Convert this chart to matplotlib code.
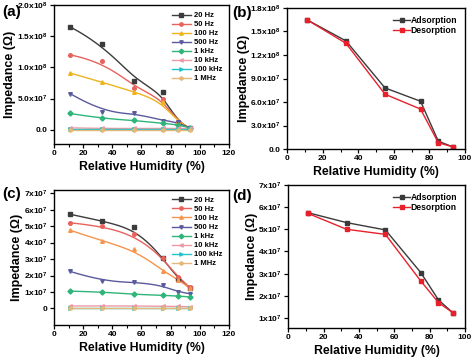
import matplotlib
matplotlib.use("Agg")
import matplotlib.pyplot as plt
import numpy as np

# ---------------------------------------------------------------------------
# Data
# ---------------------------------------------------------------------------
rh = [11, 33, 55, 75, 85, 93]
freqs = ["20 Hz", "50 Hz", "100 Hz", "500 Hz", "1 kHz", "10 kHz", "100 kHz", "1 MHz"]

# panel (a), impedance in Ohm
imp_a = {
    "20 Hz":   [1.65e8, 1.38e8, 0.78e8, 0.60e8, 0.10e8, 0.03e8],
    "50 Hz":   [1.20e8, 1.10e8, 0.67e8, 0.50e8, 0.12e8, 0.03e8],
    "100 Hz":  [0.91e8, 0.76e8, 0.61e8, 0.44e8, 0.12e8, 0.03e8],
    "500 Hz":  [0.58e8, 0.28e8, 0.27e8, 0.14e8, 0.12e8, 0.03e8],
    "1 kHz":   [0.26e8, 0.18e8, 0.15e8, 0.10e8, 0.08e8, 0.03e8],
    "10 kHz":  [0.03e8, 0.02e8, 0.02e8, 0.02e8, 0.02e8, 0.02e8],
    "100 kHz": [0.005e8, 0.005e8, 0.005e8, 0.005e8, 0.005e8, 0.005e8],
    "1 MHz":   [0.0, 0.0, 0.0, 0.0, 0.0, 0.0],
}
# panel (c)
imp_c = {
    "20 Hz":   [5.72e7, 5.30e7, 4.95e7, 3.05e7, 1.80e7, 1.25e7],
    "50 Hz":   [5.20e7, 5.00e7, 4.50e7, 3.05e7, 1.90e7, 1.30e7],
    "100 Hz":  [4.75e7, 4.10e7, 3.60e7, 2.25e7, 1.75e7, 1.25e7],
    "500 Hz":  [2.25e7, 1.65e7, 1.60e7, 1.40e7, 1.00e7, 0.90e7],
    "1 kHz":   [1.05e7, 1.00e7, 0.85e7, 0.80e7, 0.75e7, 0.70e7],
    "10 kHz":  [0.15e7, 0.15e7, 0.15e7, 0.13e7, 0.12e7, 0.10e7],
    "100 kHz": [0.02e7, 0.02e7, 0.02e7, 0.02e7, 0.02e7, 0.02e7],
    "1 MHz":   [0.0, 0.0, 0.0, 0.0, 0.0, 0.0],
}

# panels (b) and (d): adsorption / desorption at 20 Hz
rh_hys = [11, 33, 55, 75, 85, 93]
ads_b = [1.65e8, 1.38e8, 0.78e8, 0.61e8, 0.10e8, 0.03e8]
des_b = [1.65e8, 1.35e8, 0.70e8, 0.51e8, 0.08e8, 0.03e8]
ads_d = [5.75e7, 5.30e7, 4.97e7, 3.05e7, 1.82e7, 1.25e7]
des_d = [5.72e7, 5.00e7, 4.77e7, 2.67e7, 1.70e7, 1.25e7]

yt_a = [0, 5e7, 1e8, 1.5e8, 2e8]
ytl_a = ["0.0", r"5.0x10$^{7}$", r"1.0x10$^{8}$", r"1.5x10$^{8}$", r"2.0x10$^{8}$"]
yt_b = [0, 3e7, 6e7, 9e7, 1.2e8, 1.5e8, 1.8e8]
ytl_b = ["0.0", r"3.0x10$^{7}$", r"6.0x10$^{7}$", r"9.0x10$^{7}$",
         r"1.2x10$^{8}$", r"1.5x10$^{8}$", r"1.8x10$^{8}$"]
yt_c = [0, 1e7, 2e7, 3e7, 4e7, 5e7, 6e7, 7e7]
ytl_c = ["0"] + [r"%dx10$^{7}$" % i for i in range(1, 8)]
yt_d = [1e7, 2e7, 3e7, 4e7, 5e7, 6e7, 7e7]
ytl_d = [r"%dx10$^{7}$" % i for i in range(1, 8)]

# ---------------------------------------------------------------------------
# Style
# ---------------------------------------------------------------------------
plt.rcParams.update({
    "font.family": "Liberation Sans",
    "font.weight": "bold",
    "mathtext.fontset": "custom",
    "mathtext.rm": "Liberation Sans:bold",
    "mathtext.bf": "Liberation Sans:bold",
    "mathtext.default": "rm",
    "axes.linewidth": 1.0,
})

COL_A = {"20 Hz": "#3c3c3c", "50 Hz": "#e8625c", "100 Hz": "#eeb420",
         "500 Hz": "#5a5a9e", "1 kHz": "#2fb57a", "10 kHz": "#ec9aa8",
         "100 kHz": "#22c4c8", "1 MHz": "#e4b878"}
COL_C = dict(COL_A)
COL_C["100 Hz"] = "#f5944e"
MARK = {"20 Hz": "s", "50 Hz": "o", "100 Hz": "^", "500 Hz": "v",
        "1 kHz": "D", "10 kHz": "<", "100 kHz": ">", "1 MHz": "h"}


def bspline(x, y, n=120, k=3):
    """clamped cubic B-spline using the data points as control points"""
    pts = np.column_stack([x, y]).astype(float)
    m = len(pts)
    knots = np.concatenate([[0] * k, np.linspace(0, 1, m - k + 1), [1] * k])
    t = np.linspace(0, 1 - 1e-9, n)

    def basis(i, p, t):
        if p == 0:
            return ((knots[i] <= t) & (t < knots[i + 1])).astype(float)
        out = np.zeros_like(t)
        d1 = knots[i + p] - knots[i]
        d2 = knots[i + p + 1] - knots[i + 1]
        if d1 > 0:
            out += (t - knots[i]) / d1 * basis(i, p - 1, t)
        if d2 > 0:
            out += (knots[i + p + 1] - t) / d2 * basis(i + 1, p - 1, t)
        return out

    curve = sum(basis(i, k, t)[:, None] * pts[i] for i in range(m))
    curve = np.vstack([curve, pts[-1]])
    return curve[:, 0], curve[:, 1]


def style(ax, xlim, xstep, ylim, yt, ytl):
    ax.set_xlim(*xlim)
    ax.set_ylim(*ylim)
    ax.set_xticks(np.arange(xlim[0], xlim[1] + 1, xstep))
    ax.set_xticks(np.arange(xlim[0], xlim[1] + 1, xstep / 2), minor=True)
    ax.set_yticks(yt)
    ax.set_yticklabels(ytl)
    ax.tick_params(axis="both", labelsize=6, length=3, width=0.9, pad=1.5)
    ax.tick_params(axis="both", which="minor", length=1.8, width=0.8)
    ax.set_xlabel("Relative Humidity (%)", fontsize=8.8, fontweight="bold", labelpad=2.5)
    ax.set_ylabel("Impedance (Ω)", fontsize=9, fontweight="bold", labelpad=0.5)


def freq_panel(ax, data, cols):
    for f in freqs:
        xs, ys = bspline(rh, data[f])
        ax.plot(xs, ys, color=cols[f], lw=1.0, zorder=2)
        ax.plot(rh, data[f], ls="none", marker=MARK[f], ms=2.6, color=cols[f], zorder=3)
        ax.plot([], [], color=cols[f], lw=1.0, marker=MARK[f], ms=2.4, label=f)
    ax.legend(loc="upper right", frameon=False, fontsize=5.5, handlelength=2.4,
              handletextpad=0.4, labelspacing=0.22, borderaxespad=0.5)


def hys_panel(ax, ads, des):
    ax.plot(rh_hys, ads, color="#3a3a3a", marker="s", ms=2.4, lw=1.0, label="Adsorption")
    ax.plot(rh_hys, des, color="#e8202c", marker="s", ms=2.4, lw=1.0, label="Desorption")
    ax.legend(loc="upper right", frameon=False, fontsize=6.2, handlelength=2.0,
              handletextpad=0.05, labelspacing=0.2, borderaxespad=0.5)


fig = plt.figure(figsize=(4.74, 3.61), dpi=100)
ax_a = fig.add_axes([0.114, 0.601, 0.369, 0.385])
ax_b = fig.add_axes([0.606, 0.587, 0.375, 0.391])
ax_c = fig.add_axes([0.114, 0.100, 0.369, 0.374])
ax_d = fig.add_axes([0.608, 0.091, 0.373, 0.397])

freq_panel(ax_a, imp_a, COL_A)
style(ax_a, (0, 120), 20, (-2.3e7, 2.0e8), yt_a, ytl_a)

hys_panel(ax_b, ads_b, des_b)
style(ax_b, (0, 100), 20, (0, 1.8e8), yt_b, ytl_b)

freq_panel(ax_c, imp_c, COL_C)
style(ax_c, (0, 120), 20, (-1.0e7, 7.2e7), yt_c, ytl_c)

hys_panel(ax_d, ads_d, des_d)
style(ax_d, (0, 100), 20, (0.55e7, 7.0e7), yt_d, ytl_d)

for lbl, x, y in [("(a)", 0.004, 0.966), ("(b)", 0.489, 0.963),
                  ("(c)", 0.004, 0.463), ("(d)", 0.489, 0.458)]:
    fig.text(x, y, lbl, fontsize=11, fontweight="bold", va="center")

fig.patch.set_facecolor("white")
fig.savefig("out.png", dpi=100)
